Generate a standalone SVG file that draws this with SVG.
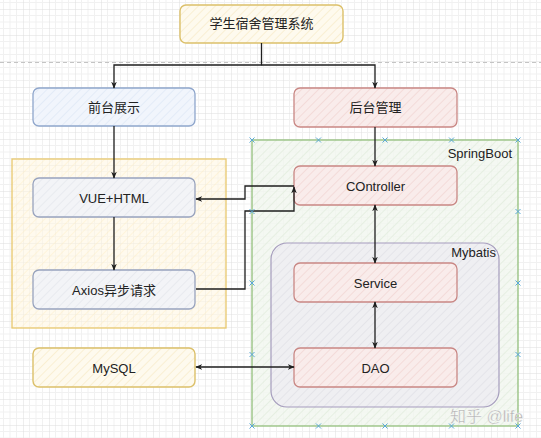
<svg xmlns="http://www.w3.org/2000/svg" width="541" height="438" viewBox="0 0 541 438">
<defs>
<style>
.t{font-family:"Liberation Sans","Noto Sans CJK SC",sans-serif;font-size:13px;fill:#222;text-anchor:middle;dominant-baseline:central}
.lbl{font-family:"Liberation Sans","Noto Sans CJK SC",sans-serif;font-size:13px;fill:#222;text-anchor:end;dominant-baseline:central}
.c{fill:none;stroke:#1e1e1e;stroke-width:1.3}
.ar{marker-end:url(#ah)}
.ar2{marker-end:url(#ah);marker-start:url(#ah)}
.mk{stroke:#5aa9d6;stroke-width:1;fill:none}
</style>
<pattern id="grid" patternUnits="userSpaceOnUse" width="26" height="26" x="23" y="9">
<rect width="26" height="26" fill="#fff"/>
<path d="M6.5,0V26M13,0V26M19.5,0V26M0,6.5H26M0,13H26M0,19.5H26" stroke="#f1f1f1" stroke-width="1"/>
<path d="M0,0V26M0,0H26" stroke="#dedede" stroke-width="1"/>
</pattern>
<pattern id="hy" patternUnits="userSpaceOnUse" width="6" height="6" patternTransform="rotate(45)">
<rect width="6" height="6" fill="#fefaee"/><line x1="0" y1="0" x2="0" y2="6" stroke="#f6e9c2" stroke-width="1.2"/>
</pattern>
<pattern id="hb" patternUnits="userSpaceOnUse" width="6" height="6" patternTransform="rotate(45)">
<rect width="6" height="6" fill="#f1f5fc"/><line x1="0" y1="0" x2="0" y2="6" stroke="#dbe5f5" stroke-width="1.2"/>
</pattern>
<pattern id="hr" patternUnits="userSpaceOnUse" width="6" height="6" patternTransform="rotate(45)">
<rect width="6" height="6" fill="#f9eceb"/><line x1="0" y1="0" x2="0" y2="6" stroke="#efd0ce" stroke-width="1.2"/>
</pattern>
<pattern id="hg" patternUnits="userSpaceOnUse" width="6" height="6" patternTransform="rotate(45)">
<rect width="6" height="6" fill="#f3f4f7"/><line x1="0" y1="0" x2="0" y2="6" stroke="#e2e4ea" stroke-width="1.2"/>
</pattern>
<pattern id="hgr" patternUnits="userSpaceOnUse" width="6" height="6" patternTransform="rotate(45)">
<rect width="6" height="6" fill="#f2f7f0" fill-opacity="0.85"/><line x1="0" y1="0" x2="0" y2="6" stroke="#dce9d6" stroke-width="1.2"/>
</pattern>
<pattern id="hp" patternUnits="userSpaceOnUse" width="6" height="6" patternTransform="rotate(45)">
<rect width="6" height="6" fill="#efeff2"/><line x1="0" y1="0" x2="0" y2="6" stroke="#dedde4" stroke-width="1.2"/>
</pattern>
<pattern id="hyc" patternUnits="userSpaceOnUse" width="6" height="6" patternTransform="rotate(45)">
<rect width="6" height="6" fill="#fff6e0" fill-opacity="0.55"/><line x1="0" y1="0" x2="0" y2="6" stroke="#fbe7b8" stroke-opacity="0.6" stroke-width="1.2"/>
</pattern>
<marker id="ah" viewBox="0 0 10 10" refX="9" refY="5" markerWidth="7" markerHeight="7" markerUnits="userSpaceOnUse" orient="auto-start-reverse">
<path d="M0,1 L10,5 L0,9 L3,5 z" fill="#1e1e1e"/>
</marker>
<g id="xm"><path d="M-2.5,-2.5L2.5,2.5M-2.5,2.5L2.5,-2.5"/></g>
</defs>
<rect width="541" height="438" fill="url(#grid)"/>
<line x1="0" y1="62.5" x2="541" y2="62.5" stroke="#c4c4c4" stroke-width="1" stroke-dasharray="4 3"/>

<g id="frontend-container">
<rect x="12" y="159" width="214" height="169" fill="url(#hyc)" stroke="#e8c86e" stroke-width="1.3"/>
</g>
<g id="springboot-container">
<rect x="252" y="140" width="266" height="286" fill="url(#hgr)" stroke="#93bf7c" stroke-width="1.3"/>
<text class="lbl" x="512" y="153">SpringBoot</text>
</g>
<g id="mybatis-container">
<rect x="271" y="243" width="228" height="164" rx="16" fill="url(#hp)" stroke="#a59cbd" stroke-width="1.2"/>
<text class="lbl" x="496" y="252">Mybatis</text>
</g>

<g id="title">
<rect x="180" y="5" width="163" height="38" rx="6" fill="url(#hy)" stroke="#dcc06a" stroke-width="1.4"/>
<text class="t" x="261.5" y="23">学生宿舍管理系统</text>
</g>
<g id="front-display">
<rect x="33" y="88" width="162" height="38" rx="6" fill="url(#hb)" stroke="#8fa6cc" stroke-width="1.3"/>
<text class="t" x="114" y="107">前台展示</text>
</g>
<g id="back-manage">
<rect x="294" y="88" width="163" height="39" rx="6" fill="url(#hr)" stroke="#c98784" stroke-width="1.3"/>
<text class="t" x="375.5" y="107.5">后台管理</text>
</g>
<g id="vue-html">
<rect x="33" y="178" width="162" height="39" rx="6" fill="url(#hg)" stroke="#98a3be" stroke-width="1.3"/>
<text class="t" x="114" y="198">VUE+HTML</text>
</g>
<g id="axios">
<rect x="33" y="270" width="162" height="39" rx="6" fill="url(#hg)" stroke="#98a3be" stroke-width="1.3"/>
<text class="t" x="114" y="290">Axios异步请求</text>
</g>
<g id="controller">
<rect x="294" y="166" width="163" height="39" rx="6" fill="url(#hr)" stroke="#c98784" stroke-width="1.3"/>
<text class="t" x="375.5" y="186">COntroller</text>
</g>
<g id="service">
<rect x="294" y="263" width="163" height="39" rx="6" fill="url(#hr)" stroke="#c98784" stroke-width="1.3"/>
<text class="t" x="375.5" y="283">Service</text>
</g>
<g id="dao">
<rect x="294" y="348" width="163" height="39" rx="6" fill="url(#hr)" stroke="#c98784" stroke-width="1.3"/>
<text class="t" x="375.5" y="368">DAO</text>
</g>
<g id="mysql">
<rect x="33" y="348" width="162" height="39" rx="6" fill="url(#hy)" stroke="#dcc06a" stroke-width="1.4"/>
<text class="t" x="114" y="368">MySQL</text>
</g>

<g id="connectors">
<path class="c ar" d="M261.5,43 V65 H114 V88"/>
<path class="c ar" d="M261.5,65 H375 V88"/>
<path class="c ar" d="M114,126 V178"/>
<path class="c ar" d="M114,217 V270"/>
<path class="c ar" d="M375,127 V166"/>
<path class="c ar2" d="M375,205 V263"/>
<path class="c ar2" d="M375,302 V348"/>
<path class="c ar2" d="M196,367 H294"/>
<path class="c ar" d="M294,186 H245 V199 H196"/>
<path class="c ar" d="M196,289 H245 V211 H294 V187"/>
</g>

<g id="selection-markers" class="mk">
<use href="#xm" x="252" y="140"/><use href="#xm" x="318.5" y="140"/><use href="#xm" x="385" y="140"/><use href="#xm" x="451.5" y="140"/><use href="#xm" x="518" y="140"/>
<use href="#xm" x="252" y="426"/><use href="#xm" x="318.5" y="426"/><use href="#xm" x="385" y="426"/><use href="#xm" x="451.5" y="426"/><use href="#xm" x="518" y="426"/>
<use href="#xm" x="252" y="211.5"/><use href="#xm" x="252" y="283"/><use href="#xm" x="252" y="354.5"/>
<use href="#xm" x="518" y="211.5"/><use href="#xm" x="518" y="283"/><use href="#xm" x="518" y="354.5"/>
</g>

<text x="450" y="416" font-family="'Liberation Sans','Noto Sans CJK SC',sans-serif" font-size="16" fill="#b0b0b0" stroke="#fff" stroke-width="0.3" dominant-baseline="central">知乎 @life</text>
</svg>
